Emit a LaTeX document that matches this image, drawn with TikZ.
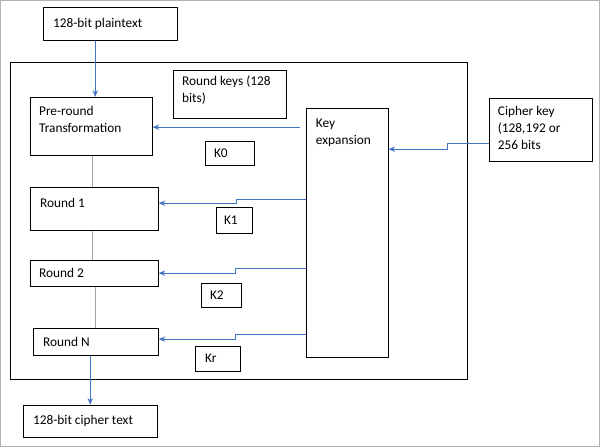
\documentclass[tikz,border=0pt]{standalone}
\usepackage{fontspec}
\setmainfont{Carlito}
\usetikzlibrary{arrows.meta,calc}
\definecolor{arr}{HTML}{4472C4}
\begin{document}
\begin{tikzpicture}[x=0.75pt,y=-0.75pt,
  box/.style={draw=black,line width=0.6pt,inner sep=0pt,rectangle},
  lbl/.style={anchor=north west,inner sep=0pt,align=left,font=\fontsize{10}{12.8}\selectfont},
  ar/.style={draw=arr,line width=0.6pt,-{Stealth[length=5pt,width=4pt]}},
  gl/.style={draw=gray!70,line width=0.6pt}]
\newcommand\bx[7]{%
  \node[box,minimum width={(#4-#2)*0.75pt},minimum height={(#5-#3)*0.75pt}] (#1) at ({(#2+#4)/2},{(#3+#5)/2}) {};
  \node[lbl] (#1t) at ($(#1.north west)+#6$) {#7};}
\draw[gray!60] (0,0) rectangle (599,446);
\useasboundingbox (0,0) rectangle (600,447);
\node[box,minimum width={457*0.75pt},minimum height={317*0.75pt}] (outer) at (238.5,220.5) {};
\bx{pt}{43}{7}{177}{40}{(10,11)}{128-bit plaintext}
\bx{pre}{30}{97}{152}{155}{(9,9)}{Pre-round\\Transformation}
\bx{rk}{173}{70}{286}{118}{(9,6)}{Round keys (128\\bits)}
\bx{k0}{205}{141}{254}{165}{(9,8)}{K0}
\bx{ke}{306}{108}{388}{357}{(10,11)}{Key\\expansion}
\bx{ck}{489}{98}{592}{161}{(9,8)}{Cipher key\\(128,192 or\\256 bits}
\bx{r1}{30}{187}{158}{230}{(10,11)}{Round 1}
\bx{k1}{216}{207}{252}{233}{(8,9)}{K1}
\bx{r2}{30}{260}{158}{286}{(9,8)}{Round 2}
\bx{k2}{201}{283}{241}{307}{(9,8)}{K2}
\bx{rn}{33}{328}{158}{355}{(10,9)}{Round N}
\bx{kr}{195}{346}{240}{371}{(10,8)}{Kr}
\bx{ct}{23}{405}{157}{437}{(10,10)}{128-bit cipher text}
\draw[ar] (pt.south -| 95,0) -- (pre.north -| 95,0);
\draw[gl] (pre.south -| 92,0) -- (r1.north -| 92,0);
\draw[gl] (r1.south -| 92,0) -- (r2.north -| 92,0);
\draw[gl] (r2.south -| 95,0) -- (rn.north -| 95,0);
\draw[ar] (rn.south -| 90,0) -- (ct.north -| 90,0);
\draw[ar] (ke.west |- 0,127) ++(-6,0) -- (pre.east |- 0,127);
\draw[ar] (ck.west |- 0,143) -- (447,143) -- (447,149) -- (ke.east |- 0,149);
\draw[ar] (ke.west |- 0,199) -- (236,199) -- (236,203) -- (r1.east |- 0,203);
\draw[ar] (ke.west |- 0,268) -- (235,268) -- (235,273) -- (r2.east |- 0,273);
\draw[ar] (ke.west |- 0,334) -- (235,334) -- (235,339) -- (rn.east |- 0,339);
\end{tikzpicture}
\end{document}
